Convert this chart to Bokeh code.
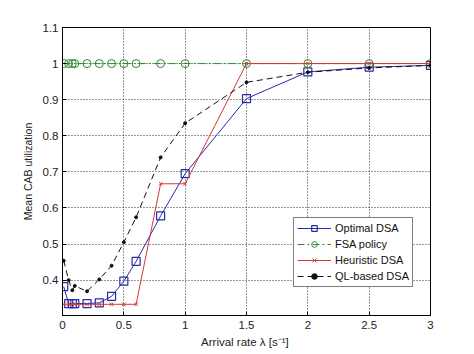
from bokeh.plotting import figure
from bokeh.models import Range1d, FixedTicker, Legend
from bokeh.embed import file_html
from bokeh.resources import INLINE

# data
x_vals = [0.01, 0.05, 0.08, 0.1, 0.2, 0.3, 0.4, 0.5, 0.6, 0.8, 1.0, 1.5, 2.0, 2.5, 3.0]
optimal = [0.382, 0.335, 0.335, 0.335, 0.335, 0.337, 0.355, 0.397, 0.452, 0.578, 0.695, 0.903, 0.977, 0.990, 0.995]
fsa = [1.0] * 15
heuristic = [0.333, 0.333, 0.333, 0.333, 0.333, 0.333, 0.333, 0.333, 0.333, 0.667, 0.667, 1.0, 1.0, 1.0, 1.0]
ql = [0.454, 0.400, 0.372, 0.384, 0.369, 0.402, 0.440, 0.505, 0.574, 0.740, 0.835, 0.948, 0.976, 0.988, 0.995]

x_ticks = [0, 0.5, 1, 1.5, 2, 2.5, 3]
x_tick_labels = ["0", "0.5", "1", "1.5", "2", "2.5", "3"]
y_ticks = [0.4, 0.5, 0.6, 0.7, 0.8, 0.9, 1.0, 1.1]
y_tick_labels = ["0.4", "0.5", "0.6", "0.7", "0.8", "0.9", "1", "1.1"]

FONT = "Liberation Sans"

p = figure(width=474, height=354, output_backend="svg", toolbar_location=None,
           x_range=Range1d(0, 3), y_range=Range1d(0.302, 1.1),
           min_border_left=62, min_border_right=44, min_border_top=27, min_border_bottom=39)
p.background_fill_color = "white"
p.border_fill_color = "white"
p.outline_line_color = "black"
p.outline_line_width = 1

for ax, ticks, labels in ((p.xaxis[0], x_ticks, x_tick_labels), (p.yaxis[0], y_ticks, y_tick_labels)):
    ax.ticker = FixedTicker(ticks=ticks)
    ax.major_label_overrides = {t: l for t, l in zip(ticks, labels)}
    ax.minor_tick_line_color = None
    ax.major_tick_in = 4
    ax.major_tick_out = 0
    ax.axis_line_color = "black"
    ax.major_tick_line_color = "black"
    ax.major_label_text_font = FONT
    ax.major_label_text_font_size = "11.5px"
    ax.major_label_text_color = "#222222"
    ax.axis_label_text_font = FONT
    ax.axis_label_text_font_style = "normal"
    ax.axis_label_text_color = "#222222"

p.xaxis.axis_label = "Arrival rate λ  [s⁻¹]"
p.yaxis.axis_label = "Mean CAB utilization"
p.xaxis.axis_label_text_font_size = "11.5px"
p.yaxis.axis_label_text_font_size = "10.5px"
p.xaxis.major_label_standoff = 5
p.xaxis.axis_label_standoff = 4
p.yaxis.major_label_standoff = 4
p.yaxis.axis_label_standoff = 6

p.grid.grid_line_color = "#333333"
p.grid.grid_line_dash = "1 2"
p.grid.grid_line_width = 1
p.xgrid.ticker = FixedTicker(ticks=x_ticks)
p.ygrid.ticker = FixedTicker(ticks=y_ticks)

blue = "#2a2aa8"
green = "#2f8a2f"
red = "#d23a3a"
black = "#111111"

r1l = p.line(x_vals, optimal, line_color=blue, line_width=1)
r1m = p.scatter(x_vals, optimal, marker="square", size=8, fill_color=None, line_color=blue, line_width=1.2)

r2l = p.line(x_vals, fsa, line_color=green, line_width=1, line_dash="7 3 2 3")
r2m = p.scatter(x_vals, fsa, marker="circle", size=8, fill_color=None, line_color=green, line_width=1)

r3l = p.line(x_vals, heuristic, line_color=red, line_width=1)
r3m = p.scatter(x_vals, heuristic, marker="x", size=5, line_color=red, line_width=1)

r4l = p.line(x_vals, ql, line_color=black, line_width=1, line_dash="6 4")
r4m = p.scatter(x_vals, ql, marker="circle", size=3, fill_color=black, line_color=black)

legend = Legend(items=[
    ("Optimal DSA", [r1l, r1m]),
    ("FSA policy", [r2l, r2m]),
    ("Heuristic DSA", [r3l, r3m]),
    ("QL-based DSA", [r4l, r4m]),
], location=(231, 28))
legend.label_text_font = FONT
legend.label_text_font_size = "11px"
legend.label_text_color = "#111111"
legend.border_line_color = "black"
legend.border_line_width = 1
legend.background_fill_color = "white"
legend.background_fill_alpha = 1
legend.glyph_width = 34
legend.glyph_height = 14
legend.label_height = 14
legend.label_standoff = 4
legend.spacing = 2
legend.padding = 3
legend.margin = 0
p.add_layout(legend, "center")

open("out.html", "w").write(file_html(p, INLINE))
